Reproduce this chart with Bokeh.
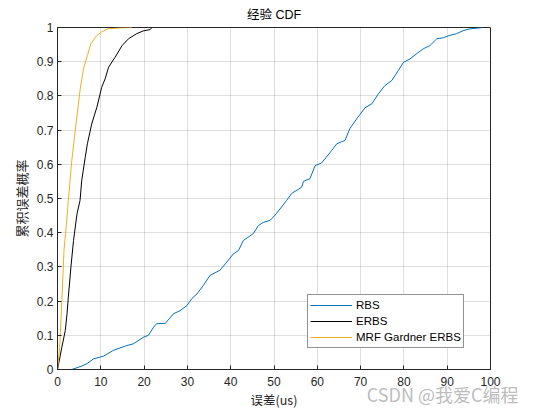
from bokeh.plotting import figure
from bokeh.models import (FixedTicker, Range1d, Legend, LegendItem, Title)
from bokeh.embed import file_html
from bokeh.resources import INLINE

# ---- data ----
rbs_x = [3.3, 5.6, 6.8, 8.3, 10.6, 12.9, 16.0, 17.5, 19.8, 21.0, 22.2, 22.9, 24.9, 26.8,
         28.3, 29.9, 31.0, 32.2, 33.7, 35.2, 37.5, 39.1, 40.6, 41.8, 42.9, 45.2, 46.4,
         47.5, 49.1, 50.5, 52.9, 54.1, 56.4, 56.8, 58.3, 59.5, 61.0, 63.3, 64.5, 66.4,
         67.5, 69.1, 71.0, 72.6, 74.1, 75.6, 77.2, 78.7, 79.9, 81.4, 82.9, 84.5, 86.0,
         87.6, 89.1, 90.6, 92.2, 93.7, 95.2, 97.5, 98.2]
rbs_y = [0.0, 0.01, 0.017, 0.031, 0.039, 0.056, 0.07, 0.075, 0.094, 0.10, 0.124, 0.134,
         0.135, 0.163, 0.172, 0.187, 0.207, 0.221, 0.246, 0.275, 0.29, 0.314, 0.338,
         0.348, 0.377, 0.397, 0.421, 0.43, 0.436, 0.455, 0.494, 0.515, 0.533, 0.55,
         0.558, 0.596, 0.604, 0.64, 0.66, 0.67, 0.704, 0.733, 0.765, 0.777, 0.806, 0.83,
         0.845, 0.874, 0.898, 0.908, 0.923, 0.938, 0.947, 0.967, 0.97, 0.977, 0.982,
         0.991, 0.996, 0.999, 1.0]

erbs_x = [0.0, 1.0, 1.8, 2.2, 2.5, 3.1, 3.7, 4.5, 5.2, 5.6, 6.4, 6.9, 7.9, 9.1, 10.2,
          11.0, 11.8, 13.3, 14.9, 16.4, 18.3, 19.8, 21.4, 21.8]
erbs_y = [0.0, 0.065, 0.114, 0.163, 0.211, 0.30, 0.377, 0.455, 0.494, 0.553, 0.62, 0.66,
          0.718, 0.767, 0.825, 0.85, 0.884, 0.913, 0.947, 0.967, 0.982, 0.99, 0.994, 1.0]

mrf_x = [0.0, 0.5, 1.0, 1.5, 2.2, 2.5, 3.3, 4.1, 5.2, 6.0, 6.9, 7.7, 9.1, 10.2, 11.5,
         14.5, 17.2]
mrf_y = [0.0, 0.065, 0.2, 0.348, 0.445, 0.494, 0.611, 0.699, 0.816, 0.879, 0.918, 0.952,
         0.977, 0.987, 0.996, 0.999, 1.0]

x_ticks = [0, 10, 20, 30, 40, 50, 60, 70, 80, 90, 100]
y_ticks = [0, 0.1, 0.2, 0.3, 0.4, 0.5, 0.6, 0.7, 0.8, 0.9, 1]
y_tick_labels = ["0", "0.1", "0.2", "0.3", "0.4", "0.5", "0.6", "0.7", "0.8", "0.9", "1"]

series_names = ["RBS", "ERBS", "MRF Gardner ERBS"]
series_colors = ["#0072BD", "#000000", "#EDB120"]

title_text = "经验 CDF"
x_label = "误差(us)"
y_label = "累积误差概率"
watermark = "CSDN @我爱C编程"

LAT = "Liberation Sans, Arial, Noto Sans CJK SC"
CJK = "Noto Sans CJK SC"
AX = "#262626"

p = figure(frame_width=433, frame_height=342, output_backend="svg", toolbar_location=None,
           x_range=Range1d(0, 100), y_range=Range1d(0, 1),
           min_border_left=57, min_border_right=44, min_border_top=27,
           min_border_bottom=43)
p.background_fill_color = "white"
p.border_fill_color = "white"
p.outline_line_color = AX
p.outline_line_width = 1
p.outline_line_alpha = 1

# title
p.title.text = title_text
p.title.align = "center"
p.title.text_font = LAT
p.title.text_font_size = "12.5px"
p.title.text_font_style = "normal"
p.title.text_color = "#000000"
p.title.standoff = 11

# axes
xt = FixedTicker(ticks=x_ticks)
yt = FixedTicker(ticks=y_ticks)
ylabels = {t: l for t, l in zip(y_ticks, y_tick_labels)}

xa = p.xaxis[0]
ya = p.yaxis[0]
xa.ticker = xt
ya.ticker = yt
ya.major_label_overrides = ylabels

for ax in (xa, ya):
    ax.axis_line_color = AX
    ax.axis_line_width = 1
    ax.major_tick_line_color = AX
    ax.major_tick_in = 4
    ax.major_tick_out = 0
    ax.minor_tick_line_color = None
    ax.major_label_text_font = LAT
    ax.major_label_text_font_size = "12px"
    ax.major_label_text_color = AX
    ax.axis_label_text_color = AX
    ax.axis_label_text_font = CJK
    ax.axis_label_text_font_style = "normal"

xa.major_label_standoff = 7
ya.major_label_standoff = 4
xa.axis_label = x_label
xa.axis_label_text_font_size = "12.5px"
xa.axis_label_standoff = 1
ya.axis_label = y_label
ya.axis_label_text_font_size = "13px"
ya.axis_label_standoff = 3

p.grid.grid_line_color = AX
p.grid.grid_line_alpha = 0.15
p.xgrid.ticker = xt
p.ygrid.ticker = yt

# lines
renderers = []
for xs, ys, c in zip([rbs_x, erbs_x, mrf_x], [rbs_y, erbs_y, mrf_y], series_colors):
    renderers.append(p.line(xs, ys, line_color=c, line_width=1.0))

legend = Legend(items=[LegendItem(label=n, renderers=[r]) for n, r in zip(series_names, renderers)],
                location=(250, 21))
legend.border_line_color = AX
legend.border_line_width = 1
legend.background_fill_color = "white"
legend.background_fill_alpha = 1
legend.label_text_font = LAT
legend.label_text_font_size = "11.5px"
legend.label_text_color = "#000000"
legend.glyph_width = 42
legend.glyph_height = 16
legend.label_height = 16
legend.label_standoff = 4
legend.padding = 2
legend.spacing = 0
legend.margin = 0
p.add_layout(legend)

# watermark (a text in the lower margin)
wm = Title(text=watermark, align="right", vertical_align="top", text_font=CJK,
           text_font_size="18px", text_font_style="normal", text_color="#b4b4b4",
           text_alpha=0.9)
try:
    wm.offset = -28
except Exception:
    pass
try:
    wm.standoff = -61
except Exception:
    wm.standoff = 0
p.add_layout(wm, "below")

open("out.html", "w").write(file_html(p, INLINE))
